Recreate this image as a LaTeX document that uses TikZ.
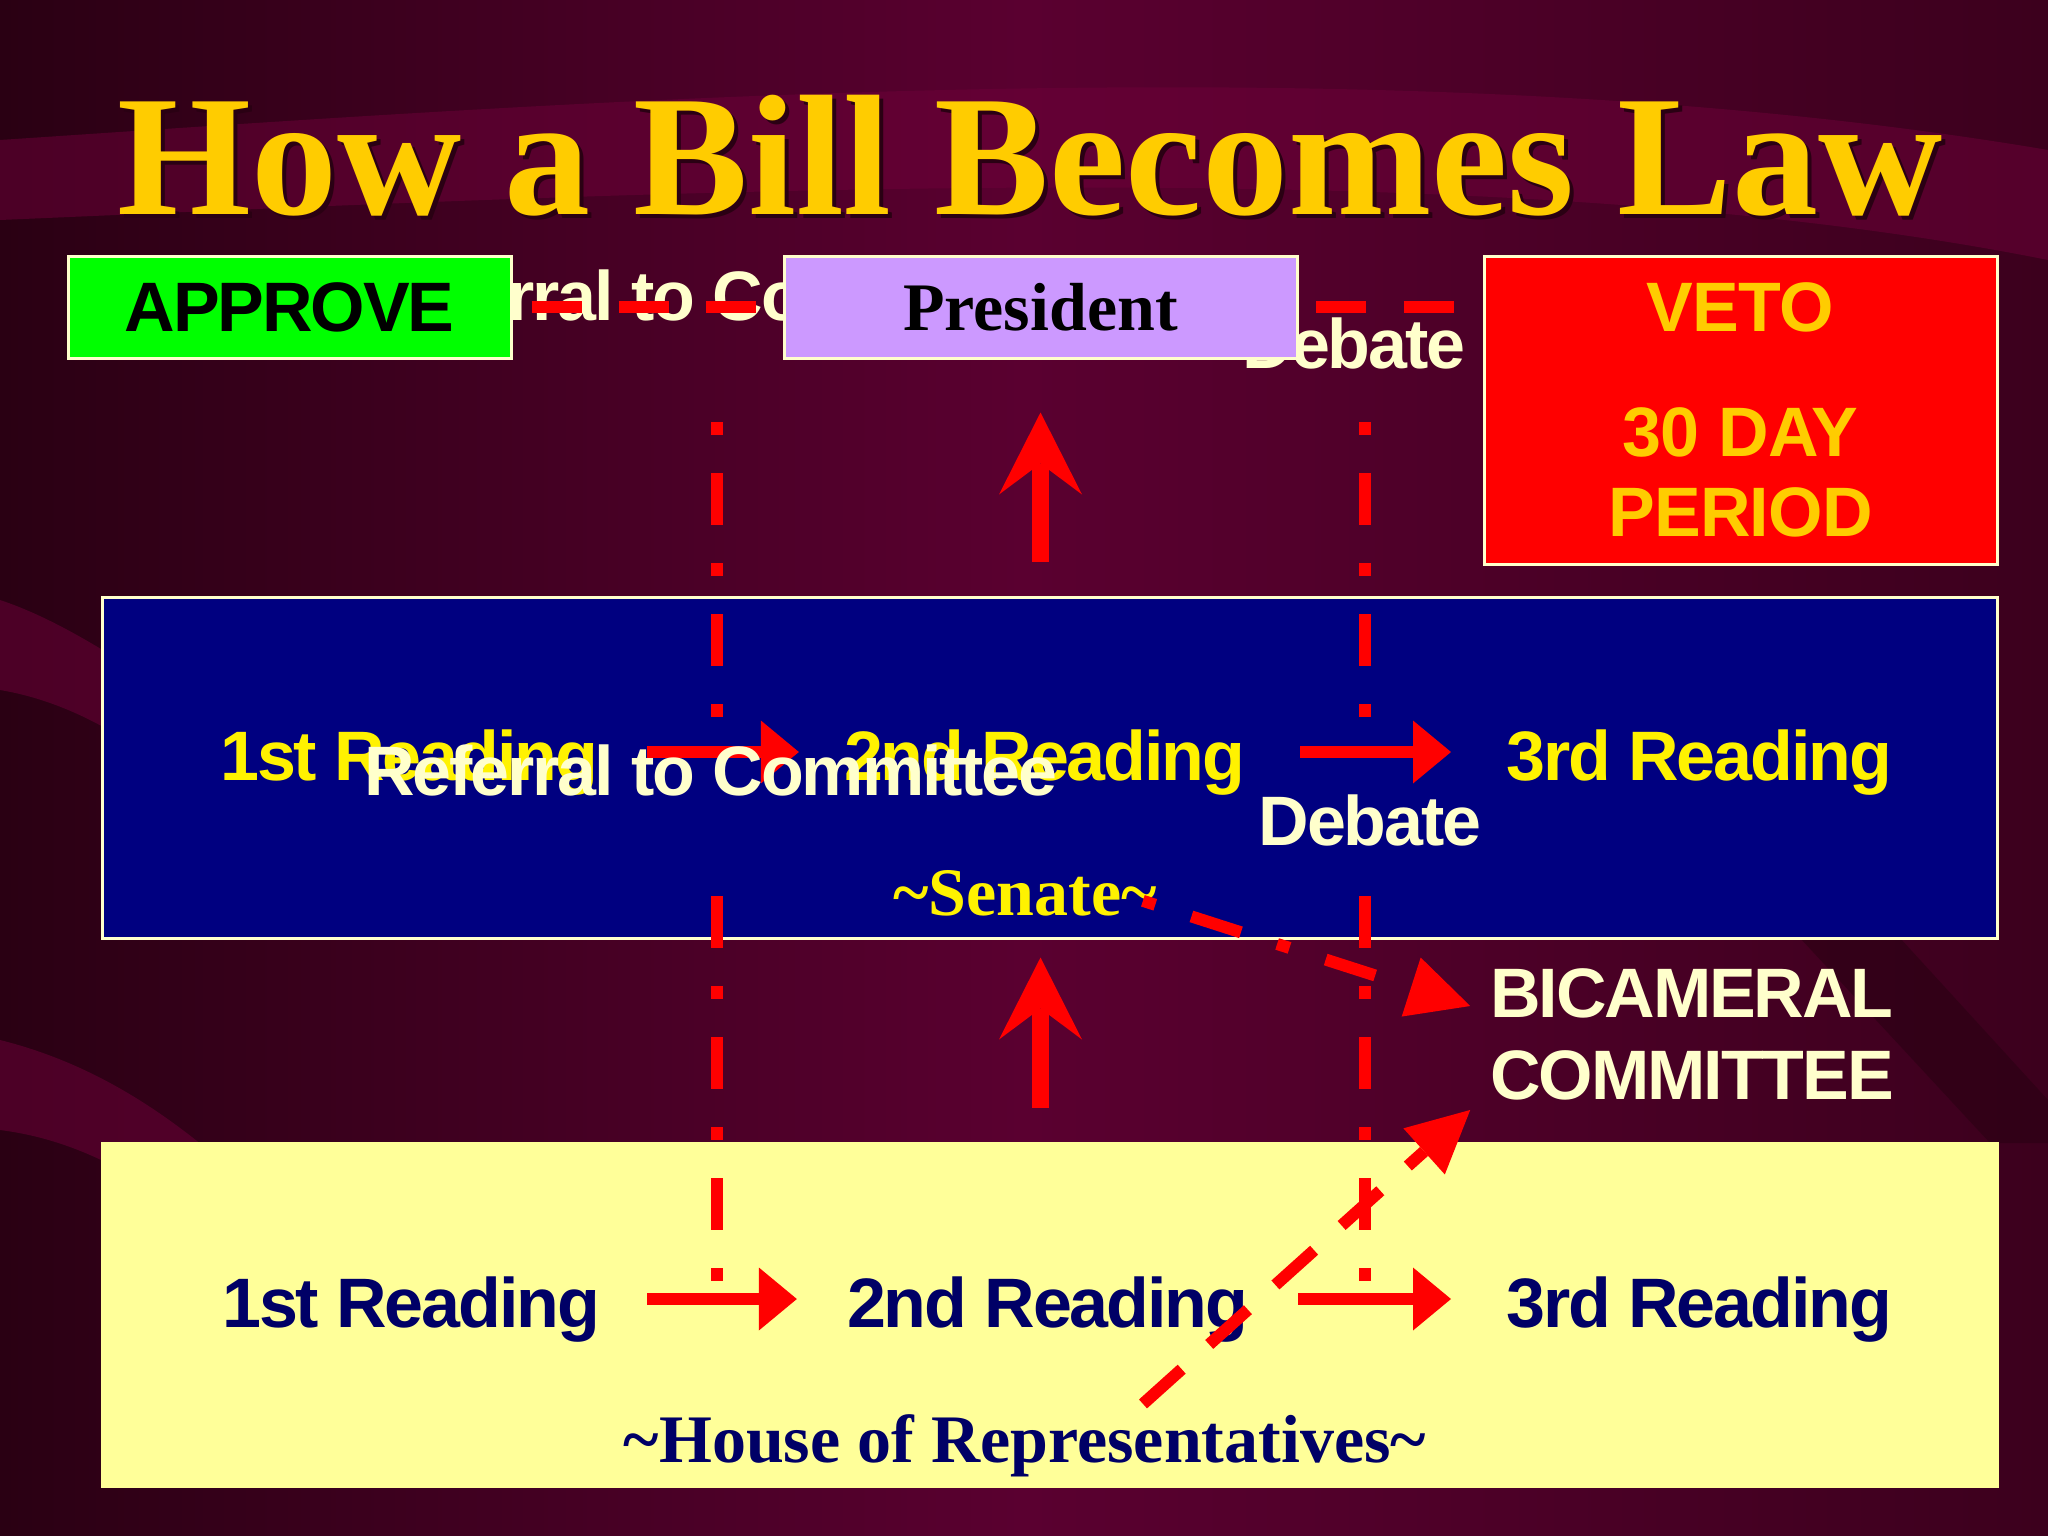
\documentclass[tikz,border=0pt]{standalone}
\usepackage{fontspec}
\setmainfont{Liberation Serif}
\newfontfamily\slidefont{Liberation Sans}[LetterSpace=-3.0]
\newfontfamily\vetofont{Liberation Sans}[LetterSpace=-1.0]
\usetikzlibrary{positioning,arrows.meta}

\definecolor{wine}{HTML}{5A0030}
\definecolor{winedark}{HTML}{2A0013}
\definecolor{wineright}{HTML}{3C001D}
\definecolor{winelight}{HTML}{6E0039}
\definecolor{gold}{HTML}{FFCC00}
\definecolor{cream}{HTML}{FFFFCC}
\definecolor{approvegreen}{HTML}{00FF00}
\definecolor{presfill}{HTML}{CC99FF}
\definecolor{senfill}{HTML}{000080}
\definecolor{housefill}{HTML}{FFFF99}
\definecolor{housetext}{HTML}{000066}

\newcommand{\slidesize}{\bfseries\fontsize{70pt}{82pt}\selectfont}

\begin{document}
\begin{tikzpicture}[x=1pt,y=-1pt]
    \tikzstyle{box}=[draw=cream, line width=3pt, inner sep=0pt]
    \tikzstyle{reading}=[inner sep=0pt, text height=56pt, text depth=0pt, font=\slidefont\slidesize]
    \tikzstyle{note}=[text=cream, inner sep=0pt, anchor=base, font=\slidefont\slidesize]
    \tikzstyle{chamber}=[inner sep=0pt, anchor=base, font=\bfseries\fontsize{68pt}{80pt}\selectfont]
    \tikzstyle{trail}=[red, line width=12pt]
    \tikzstyle{flow}=[trail, -{Triangle[length=38pt,width=63pt,line width=0pt]}]
    \tikzstyle{rise}=[red, line width=17pt, -{Stealth[length=82pt,width=83pt,inset=31pt,line width=0pt]}]
    \tikzstyle{swoosh}=[fill=winelight, fill opacity=0.5]

    % backdrop
    \fill[left color=winedark, right color=wineright, middle color=wine] (0,0) rectangle (2048,1536);
    \fill[swoosh] (0,140) .. controls (600,100) and (1400,40) .. (2048,150) -- (2048,260) .. controls (1500,150) and (700,190) .. (0,220) -- cycle;
    \fill[swoosh] (0,600) .. controls (60,620) and (120,660) .. (180,700) -- (180,780) .. controls (120,730) and (60,700) .. (0,690) -- cycle;
    \fill[swoosh] (0,1040) .. controls (80,1060) and (150,1100) .. (220,1160) -- (220,1240) .. controls (150,1180) and (80,1140) .. (0,1130) -- cycle;
    \fill[winedark, fill opacity=0.6] (1800,938) -- (1900,938) -- (2048,1100) -- (2048,1143) -- (1990,1143) -- cycle;
    \useasboundingbox (0,0) rectangle (2048,1536);

    % title
    \node (title-shadow) [anchor=base, inner sep=0pt, text=winedark, font=\bfseries\fontsize{172pt}{180pt}\selectfont] at (1034,218) {How a Bill Becomes Law};
    \node (title) [anchor=base, inner sep=0pt, text=gold, font=\bfseries\fontsize{172pt}{180pt}\selectfont] at (1030,214) {How a Bill Becomes Law};

    % left over labels behind the top row
    \node (ref-top) [note] at (711,320) {Referral to Committee};
    \node (deb-top) [note] at (1354,368) {Debate};

    % top row
    \node (approve) [box, fill=approvegreen, minimum width=443pt, minimum height=102pt, font=\slidefont\slidesize] at (289.5,307) {APPROVE};
    \node (veto) [box, fill=red, text=gold, align=center, minimum width=513pt, minimum height=308pt, font=\vetofont\bfseries\fontsize{70pt}{80pt}\selectfont] at (1740.5,410) {VETO\\[45pt]30 DAY\\PERIOD};
    \draw[trail, dash pattern=on 50pt off 37.2pt, dash phase=68.2pt, shorten >=29pt] (approve.east) -- (approve.east -| veto.west);
    \node (president) [box, fill=presfill, minimum width=513pt, minimum height=102pt, font=\bfseries\fontsize{68pt}{80pt}\selectfont] at (1040.5,307) {President};

    % chambers
    \node (senate) [box, fill=senfill, minimum width=1895pt, minimum height=341pt] at (1049.5,767.5) {};
    \node (house) [box, fill=housefill, draw=housefill, minimum width=1895pt, minimum height=343pt] at (1049.5,1314.5) {};

    \draw[rise, shorten <=34pt, shorten >=53pt] (senate.north -| president.south) -- (president.south);
    \draw[rise, shorten <=34pt, shorten >=18pt] (house.north -| president.south) -- (senate.south -| president.south);

    % committee and debate guides
    \foreach \x/\n in {717/ref, 1365/deb} {
        \coordinate (\n-a) at (\x,422);
        \coordinate (\n-b) at (\x,717);
        \coordinate (\n-c) at (\x,896);
        \coordinate (\n-d) at (\x,1281);
        \draw[trail, dash pattern=on 13pt off 38pt on 52pt off 38pt] (\n-a) -- (\n-b);
        \draw[trail, dash pattern=on 52pt off 38pt on 13pt off 38pt] (\n-c) -- (\n-d);
    }

    % readings
    \matrix (senrow) [column sep=246pt, nodes={text=yellow}] at (1056,752) {
        \node (s1) [reading] {1st Reading}; &
        \node (s2) [reading] {2nd Reading}; &[15pt]
        \node (s3) [reading] {3rd Reading}; \\
    };
    \matrix (houserow) [column sep=247pt, nodes={text=housetext}] at (1057,1299) {
        \node (h1) [reading] {1st Reading}; &
        \node (h2) [reading] {2nd Reading}; &[11pt]
        \node (h3) [reading] {3rd Reading}; \\
    };

    \draw[flow, shorten <=49pt, shorten >=45pt] (s1.east) -- (s2.west);
    \draw[flow, shorten <=55pt, shorten >=55pt] (s2.east) -- (s3.west);
    \draw[flow, shorten <=47pt, shorten >=50pt] (h1.east) -- (h2.west);
    \draw[flow, shorten <=50pt, shorten >=55pt] (h2.east) -- (h3.west);

    \node (ref-sen) [note] at (711,795) {Referral to Committee};
    \node (deb-sen) [note] at (1370,845) {Debate};
    \node (sen) [chamber, text=yellow] at (1025,915) {\textasciitilde Senate\textasciitilde};
    \node (rep) [chamber, text=housetext] at (1025,1462) {\textasciitilde House of Representatives\textasciitilde};
    \node (bicam) [text=cream, inner sep=0pt, anchor=north, align=center, font=\slidefont\slidesize] at (1692,968) {BICAMERAL\\COMMITTEE};

    % to the bicameral committee
    \draw[trail, dash pattern=on 13pt off 38pt on 52pt off 38pt, -{Triangle[length=62pt,width=62pt,line width=0pt]}] ([shift={(-14pt,-8pt)}]sen.east) -- ([shift={(-20pt,-38pt)}]bicam.north west);
    \draw[trail, dash pattern=on 52pt off 37pt, -{Triangle[length=62pt,width=62pt,line width=0pt]}] ([shift={(118pt,10pt)}]rep.north) -- ([shift={(-20pt,-10pt)}]bicam.south west);
\end{tikzpicture}
\end{document}
